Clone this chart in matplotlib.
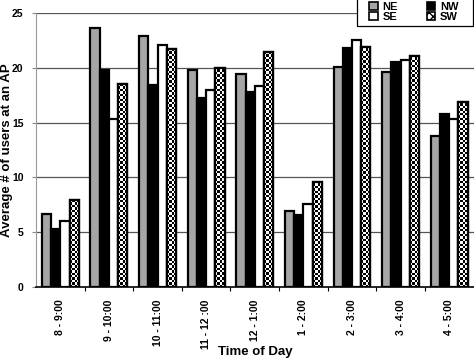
import numpy as np
import matplotlib
matplotlib.use("Agg")
import matplotlib.pyplot as plt
from matplotlib.patches import Patch, Rectangle

categories = ["8 - 9:00", "9 - 10:00", "10 - 11:00", "11 - 12 :00", "12 - 1:00",
              "1 - 2:00", "2 - 3:00", "3 - 4:00", "4 - 5:00"]
ne = [6.7, 23.6, 22.9, 19.8, 19.4, 6.9, 20.1, 19.6, 13.8]
nw = [5.3, 19.8, 18.4, 17.2, 17.8, 6.6, 21.8, 20.5, 15.8]
se = [6.0, 15.3, 22.1, 18.0, 18.3, 7.6, 22.5, 20.7, 15.3]
sw = [7.9, 18.5, 21.7, 20.0, 21.4, 9.6, 21.9, 21.1, 16.9]
yticks = [0, 5, 10, 15, 20, 25]

plt.rcParams['font.family'] = ['Liberation Sans', 'DejaVu Sans']
plt.rcParams['font.weight'] = 'bold'

fig = plt.figure(figsize=(4.74, 3.6), dpi=100)
ax = fig.add_axes([36/474, 1-287/360, 1-36/474 - 0.001, (287-13)/360])

x = np.arange(len(categories))
w = 0.19
offs = [-1.5*w, -0.5*w, 0.5*w, 1.5*w]
lw = 1.6

# gridlines
for yv in yticks[1:]:
    ax.axhline(yv, color='#555555', lw=0.9, zorder=0)

b1 = ax.bar(x + offs[0], ne, w, color='#a6a6a6', edgecolor='black', lw=lw, zorder=2)
b2 = ax.bar(x + offs[1], nw, w, color='black', edgecolor='black', lw=lw, zorder=2)
b3 = ax.bar(x + offs[2], se, w, color='white', edgecolor='black', lw=lw, zorder=2)
b4 = ax.bar(x + offs[3], sw, w, color='white', edgecolor='black', lw=lw, zorder=2)

# checkerboard fill for SW bars
n = 200
chk = (np.indices((n, 8)).sum(axis=0) % 2).astype(float)
for r in b4:
    x0, y0 = r.get_x(), r.get_y()
    ww, hh = r.get_width(), r.get_height()
    rows = max(2, int(round(hh / 0.22)))
    im = ax.imshow(chk[:rows, :4], cmap='gray', extent=(x0, x0 + ww, y0, y0 + hh),
                   aspect='auto', interpolation='nearest', zorder=2.5, origin='lower')
    im.set_clip_path(r)
    edge = plt.Rectangle((x0, y0), ww, hh, fill=False, edgecolor='black', lw=lw, zorder=3)
    ax.add_patch(edge)

ax.set_xlim(-0.5, len(categories) - 0.5)
ax.set_ylim(0, 25)
ax.set_yticks(yticks)
ax.set_yticklabels([str(v) for v in yticks], fontsize=7.5, fontweight='bold')
ax.set_xticks(x[:-1] + 0.5)
ax.set_xticks(x, minor=True)
ax.set_xticklabels([])
ax.set_xticklabels(categories, minor=True, rotation=90, fontsize=7.5, fontweight='bold')
ax.tick_params(axis='x', which='minor', length=0, pad=9)
ax.tick_params(axis='x', which='major', length=3, color='black')
ax.tick_params(axis='y', length=3, color='#888888', pad=6)

for s in ['top', 'right']:
    ax.spines[s].set_visible(False)
ax.spines['left'].set_color('#999999')
ax.spines['bottom'].set_color('black')
ax.spines['bottom'].set_linewidth(1.2)

fig.text(7/474, 1-150/360, "Average # of users at an AP", rotation=90,
         fontsize=9.5, fontweight='bold', ha='center', va='center')
fig.text(255/474, 1-352/360, "Time of Day", fontsize=9.5, fontweight='bold',
         ha='center', va='center')

# legend box
fig.patches.append(Rectangle((357/474, 1-26/360), 116/474, 40/360, transform=fig.transFigure,
                             facecolor='white', edgecolor='black', lw=0.9, zorder=5))
handles = [Patch(facecolor='#a6a6a6', edgecolor='black', lw=1.2),
           Patch(facecolor='white', edgecolor='black', lw=1.2),
           Patch(facecolor='black', edgecolor='black', lw=1.2),
           Patch(facecolor='white', edgecolor='black', hatch='xxxx', lw=1.2)]
labels = ["NE", "SE", "NW", "SW"]
leg = fig.legend(handles, labels, ncol=2, loc='upper left',
                 bbox_to_anchor=(369/474, 1 - 1.5/360),
                 fontsize=8, frameon=False,
                 handlelength=0.8, handleheight=0.8, handletextpad=0.4,
                 columnspacing=2.6, borderpad=0.0, labelspacing=0.0, borderaxespad=0)
leg.set_zorder(6)
for t in leg.get_texts():
    t.set_fontweight('bold')

fig.savefig("out.png", dpi=100)
